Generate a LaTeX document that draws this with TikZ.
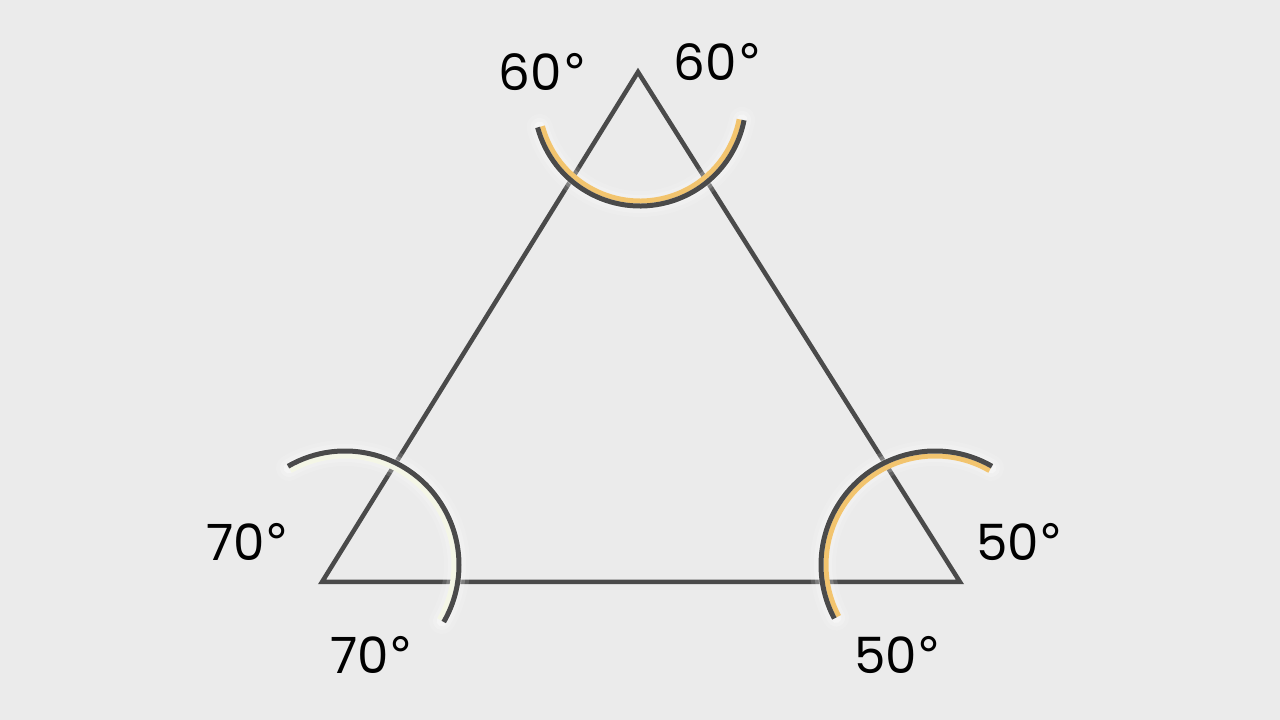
\documentclass[tikz,border=0pt]{standalone}
\usepackage{fontspec}
\setmainfont{Poppins}
\newfontfamily\degfont{DejaVu Sans}
\usepackage{tikz}
\usetikzlibrary{positioning}
\definecolor{bgcol}{HTML}{EBEBEB}
\definecolor{edgecol}{HTML}{4A4A4A}
\definecolor{warmcol}{HTML}{F2C46E}
\definecolor{palecol}{HTML}{F4F6E6}
\newcommand{\dg}{{\degfont °}}
\tikzset{
  side/.style   = {draw=edgecol, line width=4.5pt, line join=miter},
  glow/.style   = {draw=white, line cap=round},
  rim/.style    = {draw=edgecol, line width=5pt},
  inner/.style  = {line width=5pt},
  angle/.style  = {font=\fontsize{50}{56}\selectfont, text=black, inner sep=0pt}
}

\begin{document}
\begin{tikzpicture}[x=1pt, y=1pt]
\fill[bgcol] (0,0) rectangle (1280,720);
\useasboundingbox (0,0) rectangle (1280,720);

% corners of the triangle
\coordinate (top) at (638,648);
\coordinate (bl) at (322,138);
\coordinate (br) at (960,138);

% centres of the angle arcs
\coordinate (ctop) at (640,620);
\coordinate (cbl) at (345,155);
\coordinate (cbr) at (935,155);

% the triangle
\draw[side] (bl) -- (br) -- (top) -- cycle;

% soft glow round the arcs
\foreach \w/\o in {26/0.12, 18/0.2, 11/0.35}{
  \draw[glow, line width=\w pt, opacity=\o] ([shift={(195:104)}]ctop) arc[start angle=195, end angle=349, radius=104];
  \draw[glow, line width=\w pt, opacity=\o] ([shift={(120:112)}]cbl) arc[start angle=120, end angle=-30, radius=112];
  \draw[glow, line width=\w pt, opacity=\o] ([shift={(60:112)}]cbr) arc[start angle=60, end angle=208, radius=112];
}

% coloured inner strokes
\draw[inner, draw=warmcol] ([shift={(195:101)}]ctop) arc[start angle=195, end angle=349, radius=101];
\draw[inner, draw=palecol] ([shift={(120:109)}]cbl) arc[start angle=120, end angle=-30, radius=109];
\draw[inner, draw=warmcol] ([shift={(60:109)}]cbr) arc[start angle=60, end angle=208, radius=109];

% dark outer rims
\draw[rim] ([shift={(195:106)}]ctop) arc[start angle=195, end angle=349, radius=106];
\draw[rim] ([shift={(120:114)}]cbl) arc[start angle=120, end angle=-30, radius=114];
\draw[rim] ([shift={(60:114)}]cbr) arc[start angle=60, end angle=208, radius=114];

% labels
\node[angle] (t1) at (543,648) {60\dg};
\node[angle] (t2) at (718,658) {60\dg};
\node[angle] (l1) at (248,178) {70\dg};
\node[angle] (l2) at (372,65) {70\dg};
\node[angle] (r1) at (1020,178) {50\dg};
\node[angle] (r2) at (898,65) {50\dg};
\end{tikzpicture}
\end{document}
